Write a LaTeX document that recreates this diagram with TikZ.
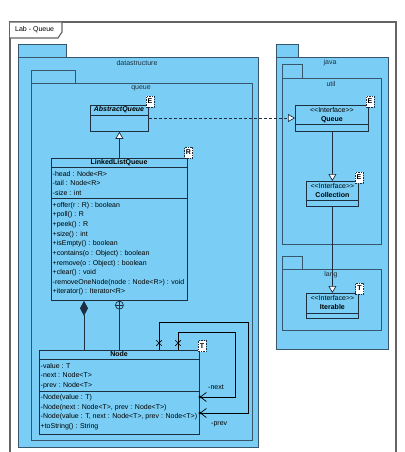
\documentclass[tikz,border=0pt]{standalone}
\usepackage{fontspec}
\setmainfont{Liberation Sans}
\usetikzlibrary{arrows.meta,shapes.misc}
\definecolor{pkgblue}{RGB}{122,206,245}
\definecolor{pkgline}{RGB}{55,85,108}
\definecolor{clsline}{RGB}{28,46,64}
\definecolor{framegray}{RGB}{100,100,100}
\tikzset{
	frameline/.style={draw=framegray, fill=white, line width=1.2pt},
	pkg/.style={draw=pkgline, fill=pkgblue, line width=0.8pt},
	pkgname/.style={inner sep=0pt, text=clsline, font=\fontsize{7}{8}\selectfont},
	umlclass/.style={draw=clsline, fill=pkgblue, line width=0.8pt, inner sep=0pt, anchor=north west},
	sepline/.style={draw=clsline, line width=0.8pt},
	clsname/.style={inner sep=0pt, text height=5pt, text depth=1.5pt, font=\fontsize{7}{8}\selectfont\bfseries},
	member/.style={anchor=west, inner sep=0pt, text height=5pt, text depth=1.5pt, font=\fontsize{7}{8}\selectfont},
	stereo/.style={inner sep=0pt, text height=5pt, text depth=1.5pt, font=\fontsize{7}{8}\selectfont},
	tparam/.style={draw=clsline, dashed, dash pattern=on 1.5pt off 1pt, fill=white, inner sep=0pt, minimum width=8pt, minimum height=11pt, font=\fontsize{7}{8}\selectfont\bfseries},
	inherit/.style={draw=clsline, line width=0.7pt, -{Triangle[fill=white, width=8pt, length=7pt]}},
	realize/.style={inherit, dash pattern=on 3pt off 2pt},
	compose/.style={draw=clsline, line width=0.7pt, -{Diamond[width=8pt, length=15pt]}},
	assoc/.style={draw=clsline, line width=0.7pt},
	navassoc/.style={draw=black, line width=0.7pt, -{Straight Barb[length=6pt, width=9pt]}},
	nestmark/.style={circle, draw=clsline, fill=pkgblue, line width=0.7pt, minimum size=8pt, inner sep=0pt, anchor=north,
		path picture={\draw[clsline, line width=0.7pt] (path picture bounding box.north) -- (path picture bounding box.south) (path picture bounding box.west) -- (path picture bounding box.east);}},
	xmark/.style={cross out, draw=black, line width=0.7pt, minimum size=5pt, inner sep=0pt}
}
\begin{document}
\begin{tikzpicture}[x=1pt,y=-1pt]
	\useasboundingbox (0,0) rectangle (404,452);
	\draw [frameline] (10,22) rectangle (396,470);
	\draw [frameline] (10,22) -- (62,22) -- (62,32) -- (58,38) -- (10,38);
	\node [member] (framename) at (15,30) {Lab - Queue};

	\draw [pkg] (18,44) rectangle (66,57);
	\draw [pkg] (18,57) rectangle (258,447);
	\node [pkgname] (dsname) at (137,62.5) {datastructure};
	\draw [pkg] (31,70) rectangle (75,83);
	\draw [pkg] (31,83) rectangle (252,440);
	\node [pkgname] (queuename) at (141,88.5) {queue};

	\draw [pkg] (276,44) rectangle (298,57);
	\draw [pkg] (276,57) rectangle (388,349);
	\node [pkgname] (javaname) at (330,62.5) {java};
	\draw [pkg] (282,64) rectangle (302,78);
	\draw [pkg] (282,78) rectangle (381,244);
	\node [pkgname] (utilname) at (331,83.5) {util};
	\draw [pkg] (282,256) rectangle (302,269);
	\draw [pkg] (282,269) rectangle (381,330);
	\node [pkgname] (langname) at (331,274.5) {lang};

	\node [umlclass, minimum width=58pt, minimum height=26pt] (absq) at (90,105) {};
	\draw [sepline] (absq.west |- 0,115) -- (absq.east |- 0,115);
	\node [clsname, font=\fontsize{7}{8}\selectfont\bfseries\itshape] (absqname) at (119,110) {AbstractQueue};
	\node [tparam] (absqT) at (150,101.5) {E};

	\node [umlclass, minimum width=136pt, minimum height=142pt] (llq) at (51,158) {};
	\draw [sepline] (llq.west |- 0,167) -- (llq.east |- 0,167);
	\draw [sepline] (llq.west |- 0,198) -- (llq.east |- 0,198);
	\node [clsname] (llqname) at (119,162.5) {LinkedListQueue};
	\node [member] at (52.5,174.3) {-head : Node<R>};
	\node [member] at (52.5,183.5) {-tail : Node<R>};
	\node [member] at (52.5,193.3) {-size : int};
	\node [member] at (52.5,205.5) {+offer(r : R) : boolean};
	\node [member] at (52.5,215) {+poll() : R};
	\node [member] at (52.5,224.5) {+peek() : R};
	\node [member] at (52.5,234.3) {+size() : int};
	\node [member] at (52.5,244) {+isEmpty() : boolean};
	\node [member] at (52.5,253.5) {+contains(o : Object) : boolean};
	\node [member] at (52.5,263.3) {+remove(o : Object) : boolean};
	\node [member] at (52.5,272.8) {+clear() : void};
	\node [member] at (52.5,282.4) {-removeOneNode(node : Node<R>) : void};
	\node [member] at (52.5,291.8) {+iterator() : Iterator<R>};
	\node [tparam] (llqT) at (188.5,152.5) {R};

	\node [umlclass, minimum width=160pt, minimum height=84pt] (nodecls) at (39,350) {};
	\draw [sepline] (nodecls.west |- 0,359) -- (nodecls.east |- 0,359);
	\draw [sepline] (nodecls.west |- 0,391) -- (nodecls.east |- 0,391);
	\node [clsname] (nodename) at (119,354.5) {Node};
	\node [member] at (40.5,366.7) {-value : T};
	\node [member] at (40.5,376) {-next : Node<T>};
	\node [member] at (40.5,385.7) {-prev : Node<T>};
	\node [member] at (40.5,397.7) {-Node(value : T)};
	\node [member] at (40.5,407.5) {-Node(next : Node<T>, prev : Node<T>)};
	\node [member] at (40.5,416.8) {-Node(value : T, next : Node<T>, prev : Node<T>)};
	\node [member] at (40.5,426.7) {+toString() : String};
	\node [tparam] (nodeT) at (202,346) {T};

	\node [umlclass, minimum width=73pt, minimum height=26pt] (iqueue) at (295,105) {};
	\draw [sepline] (iqueue.west |- 0,124) -- (iqueue.east |- 0,124);
	\node [stereo] at (iqueue.north |- 0,110.5) {<{}<Interface>{}>};
	\node [clsname] (iqueuename) at (iqueue.north |- 0,119.5) {Queue};
	\node [tparam] (iqueueT) at (370,101.5) {E};

	\node [umlclass, minimum width=52pt, minimum height=25pt] (icoll) at (306,181) {};
	\draw [sepline] (icoll.west |- 0,200) -- (icoll.east |- 0,200);
	\node [stereo] at (icoll.north |- 0,186.5) {<{}<Interface>{}>};
	\node [clsname] (icollname) at (icoll.north |- 0,195.5) {Collection};
	\node [tparam] (icollT) at (359,177.5) {E};

	\node [umlclass, minimum width=52pt, minimum height=25pt] (iiter) at (306,293) {};
	\draw [sepline] (iiter.west |- 0,313) -- (iiter.east |- 0,313);
	\node [stereo] at (iiter.north |- 0,298.5) {<{}<Interface>{}>};
	\node [clsname] (iitername) at (iiter.north |- 0,307.5) {Iterable};
	\node [tparam] (iiterT) at (359.5,288.5) {T};

	\draw [inherit] (llq.north) -- (absq.south);
	\draw [realize] (absq.east |- 0,118) -- (iqueue.west |- 0,118);
	\draw [inherit] (icoll.north |- iqueue.south) -- (icoll.north);
	\draw [inherit] (icoll.south) -- (iiter.north);
	\draw [compose] (nodecls.north -| 84,0) -- (llq.south -| 84,0);
	\draw [assoc] (nodecls.north) -- (llq.south);
	\node [nestmark] (nest) at (llq.south) {};

	\draw [navassoc] (nodecls.north -| 178,0) |- (235,332) |- (nodecls.east |- 0,397);
	\draw [navassoc] (nodecls.north -| 159,0) |- (248,322) |- (nodecls.east |- 0,413);
	\fill (nodecls.east |- 0,397) circle (1.5pt);
	\fill (nodecls.east |- 0,413) circle (1.5pt);
	\node [xmark] (nextx) at (178,343) {};
	\node [xmark] (prevx) at (159,343) {};
	\node [member] (nextname) at (208,388) {-next};
	\node [member] (prevname) at (211,424) {-prev};
\end{tikzpicture}
\end{document}
